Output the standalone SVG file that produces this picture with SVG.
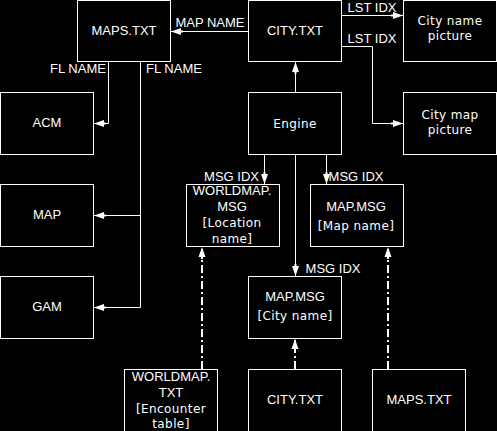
<svg xmlns="http://www.w3.org/2000/svg" width="497" height="431" viewBox="0 0 497 431">
<style>
.box{fill:#000;stroke:#fff;stroke-width:1}
.a{font-family:"Liberation Sans",Arial,sans-serif;font-size:13px;fill:#fff;text-anchor:middle}
.b{font-family:"DejaVu Sans",sans-serif;font-size:12px;fill:#fff;text-anchor:middle;letter-spacing:0.4px}
.ln{fill:none;stroke:#fff;stroke-width:1}
.dd{fill:none;stroke:#fff;stroke-width:2;stroke-dasharray:8 3 2 3}
</style>
<defs>
<marker id="arr" markerUnits="userSpaceOnUse" viewBox="0 0 12 8" markerWidth="12" markerHeight="8" refX="12" refY="4" orient="auto">
<path d="M2,0.5 L12,4 L2,7.5 Z" fill="#fff"/>
<rect x="0" y="3" width="3" height="2" fill="#fff"/>
</marker>
</defs>
<rect x="0" y="0" width="497" height="431" fill="#000"/>
<g id="connectors">
<path class="ln" d="M248,31.5 H171" marker-end="url(#arr)"/>
<path class="ln" d="M108.5,61.5 V123.5 H94" marker-end="url(#arr)"/>
<path class="ln" d="M140.5,61.5 V307.5 H94" marker-end="url(#arr)"/>
<path class="ln" d="M140.5,215.5 H94" marker-end="url(#arr)"/>
<path class="ln" d="M341.5,15.5 H403" marker-end="url(#arr)"/>
<path class="ln" d="M341.5,46.5 H372.5 V123.5 H403" marker-end="url(#arr)"/>
<path class="ln" d="M295.5,92 V62" marker-end="url(#arr)"/>
<path class="ln" d="M264.5,154.5 V184" marker-end="url(#arr)"/>
<path class="ln" d="M326.5,154.5 V184" marker-end="url(#arr)"/>
<path class="ln" d="M295.5,154.5 V276" marker-end="url(#arr)"/>
<path class="dd" d="M202,369 V247" marker-end="url(#arr)"/>
<path class="dd" d="M295,369 V339" marker-end="url(#arr)"/>
<path class="dd" d="M388,369 V247" marker-end="url(#arr)"/>
<text class="a" x="210" y="27">MAP NAME</text>
<text class="a" x="78" y="73">FL NAME</text>
<text class="a" x="174" y="73">FL NAME</text>
<text class="a" x="372" y="12">LST IDX</text>
<text class="a" x="372" y="43">LST IDX</text>
<text class="a" x="231.5" y="181">MSG IDX</text>
<text class="a" x="356" y="181">MSG IDX</text>
<text class="a" x="333" y="273">MSG IDX</text>
</g>
<g id="maps-txt-top">
<rect class="box" x="77.5" y="0.5" width="93" height="61"/>
<text class="a" x="124" y="35">MAPS.TXT</text>
</g>
<g id="city-txt-top">
<rect class="box" x="248.5" y="0.5" width="93" height="61"/>
<text class="a" x="295" y="35">CITY.TXT</text>
</g>
<g id="city-name-picture">
<rect class="box" x="403.5" y="0.5" width="93" height="61"/>
<text class="b" x="450" y="25">City name</text>
<text class="b" x="450" y="40">picture</text>
</g>
<g id="city-map-picture">
<rect class="box" x="403.5" y="92.5" width="93" height="62"/>
<text class="b" x="450" y="119">City map</text>
<text class="b" x="450" y="134">picture</text>
</g>
<g id="engine">
<rect class="box" x="248.5" y="92.5" width="93" height="62"/>
<text class="b" x="295" y="128">Engine</text>
</g>
<g id="acm">
<rect class="box" x="0.5" y="92.5" width="93" height="62"/>
<text class="a" x="47" y="127">ACM</text>
</g>
<g id="map">
<rect class="box" x="0.5" y="184.5" width="93" height="62"/>
<text class="a" x="47" y="219">MAP</text>
</g>
<g id="gam">
<rect class="box" x="0.5" y="276.5" width="93" height="62"/>
<text class="a" x="47" y="311">GAM</text>
</g>
<g id="worldmap-msg">
<rect class="box" x="186.5" y="184.5" width="93" height="62"/>
<text class="a" x="232" y="195">WORLDMAP.</text>
<text class="a" x="232" y="211">MSG</text>
<text class="b" x="232" y="227">[Location</text>
<text class="b" x="232" y="243">name]</text>
</g>
<g id="map-msg-map">
<rect class="box" x="310.5" y="184.5" width="93" height="62"/>
<text class="a" x="356" y="211">MAP.MSG</text>
<text class="b" x="356" y="230">[Map name]</text>
</g>
<g id="map-msg-city">
<rect class="box" x="248.5" y="276.5" width="93" height="62"/>
<text class="a" x="295" y="301">MAP.MSG</text>
<text class="b" x="295" y="320">[City name]</text>
</g>
<g id="worldmap-txt">
<rect class="box" x="124.5" y="369.5" width="93" height="62"/>
<text class="a" x="171" y="381">WORLDMAP.</text>
<text class="a" x="171" y="397">TXT</text>
<text class="b" x="171" y="413">[Encounter</text>
<text class="b" x="171" y="428">table]</text>
</g>
<g id="city-txt-bottom">
<rect class="box" x="248.5" y="369.5" width="93" height="62"/>
<text class="a" x="295" y="404">CITY.TXT</text>
</g>
<g id="maps-txt-bottom">
<rect class="box" x="372.5" y="369.5" width="93" height="62"/>
<text class="a" x="419" y="404">MAPS.TXT</text>
</g>
</svg>
